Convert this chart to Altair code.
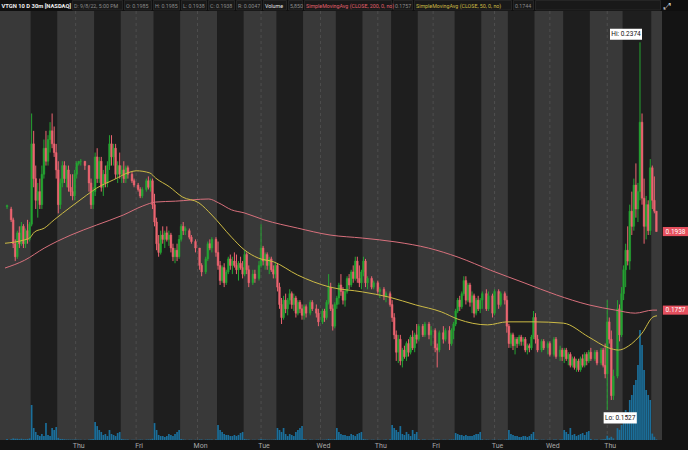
import altair as alt
import pandas as pd

# ---------------- data -----------------
# 30-minute bars, prices in thousandths of a dollar:
# (open, high, low, close, volume in thousands of shares); None = no trades in that slot
s01 = [(199.5,200,199,199.8,10), None, (199,199.5,196,196.5,8), (196.5,197,190,191,15), (191,192,187,188,12),
       (188,194,187.5,193.5,12), (193.5,195,190,191,8), (191,196,190.5,195,12), (195,195.5,190,191,8),
       (191,194.5,190,194,8), (194,196.5,191,192,10), (192,196,191.5,195.5,15)]
s02 = [(195.5,221,195,214,326), (214,217,204,206,112), (206,209,199,201,75), (201,205,197,203,47),
       (203,206,199,200,37), (200,209,199,207,56), (207,215,206,213,37), (213,217,209,210,158),
       (210,216,209,215,47), (215,219,212,217,37), (217,221,213,214,112), (214,218,211,212,93),
       (212,214,206,208,121)]
s03 = [(208,210,198,200,20), (200,206,199,205,10), (205,210,204,209,10), (209,210,205,206,8),
       (206,209,204,208,5), (208,209,203,204,5), (204,207,202,203,4), (203,207,201,202,4),
       (202,208,201,207,5), (207,210,206,209.5,4), (209.5,210,209,210,3), (210,210.5,209,210,3), None,
       (210,210,208,209,3), None, (209,209,203,205,5), (205,206,199,200,8), (200,204,199,203,10)]
s04 = [(203,212,202,211,168), (211,213,205,206,130), (206,211,205,210,93), (210,211,203,204,75),
       (204,208,202,207,47), (207,209,204,205,56), (205,210,204,209,37), (209,216,208,214,93),
       (214,216,209,211,56), (211,214,209,213,47), (213,214,206,207,37), (207,210,205,209,65),
       (209,212,206,207,75)]
s05 = [(207,209,205,208,10), (208,210,205,206,6), (206,209,205,208.5,5), (208.5,209,206,207,4), None,
       (207,207.5,205,205.5,3), (205.5,206,204,204.5,3), None, (204.5,205,203,203.5,3),
       (203.5,204,201.5,202,4), (202,204,201.5,203.5,3), None, (203.5,206,203,205.5,4),
       (205.5,206.5,203.5,204,5), (204,206,203,205.5,6), (205.5,206,199,200,12)]
s06 = [(200,202.5,195,196,158), (196,197,189.5,191,93), (191,193,188,189,47), (189,194,188.5,193,37),
       (193,195,191,192,37), (192,194,190,193.5,28), (193.5,195,191.5,192,37), (192,194,190.5,193,56),
       (193,193.5,189,190,47), (190,191,187,188,37), (188,190,186.5,189.5,56), (189.5,191,187,188,75),
       (188,193,187.5,192,93)]
s07 = [(192,195.5,191.5,195,10), (195,196,193,194,5), (194,195,193,194.5,3), None, (194,194.5,192,192.5,3),
       (192.5,193,191,191.5,3), None, (191.5,192,189,190,3), None, (190,190,185,186,5),
       (186,186.5,183.5,184.5,5), None, (184.5,188,184,187.5,4), (187.5,191.5,187,191,5),
       (191,192,189.5,190,4), (190,192.5,189,192,5), None, (192,192.5,188,189,8)]
s08 = [(189,191.5,185,186,140), (186,187,181.5,182.5,93), (182.5,186,182,185.5,75), (185.5,186.5,181,182,56),
       (182,185,181.5,184.5,47), (184.5,188,184,187.5,47), (187.5,188.5,185,186,37), (186,188,184,187,37),
       (187,189,185.5,186,47), (186,188.5,184,185,37), (185,187,182.5,186.5,47), (186.5,188,185,185.5,65),
       (185.5,187,183,184,75)]
s09 = [(184,189.5,183.5,188.5,10), (188.5,189,184,185,6), (185,186,181,182,5), None, (182,185,181.5,184,3),
       (184,185,182,183,3), None, (183,187,182.5,186,4), (186,195.5,185.5,190,10), (190,190.5,186,187,5),
       (187,189,185,188.5,4), (188.5,189,185,186,3), (186,188,184,187.5,3), (187.5,188,184.5,185,3),
       (185,186,183,184,4), (184,186.5,183,186,6)]
s10 = [(186,186.5,180,181,112), (181,182,176,177,93), (177,178.5,172.5,174,75), (174,179,173.5,178,112),
       (178,179.5,175,176,56), (176,178.5,174.5,178,37), (178,180.5,177,179.5,56), (179.5,180,176,177,47),
       (177,179.5,175.5,178.5,37), (178.5,179,174,175,75), (175,178,174.5,177.5,93), (177.5,178,175,176,112),
       (176,177,173.5,174.5,130)]
s11 = [(174.5,177,173.5,176.5,10), (176.5,177,174,175,5), None, (175,178,174.5,177.5,4), (177.5,178,175.5,176,3),
       None, (176,177,174,175,3), (175,176,172,173,4), None, (173,176,172.5,175.5,3), (175.5,176,173,174,3),
       (174,178,173.5,177.5,5), (177.5,184,177,181,10), (181,182,175.5,176,6), (176,177,171,172,5),
       (172,177.5,171.5,177,8)]
s12 = [(177,179,176,178.5,112), (178.5,182,177,181.5,75), (181.5,184,179,180,56), (180,181,177,178,47),
       (178,180.5,176.5,180,47), (180,183.5,179.5,183,37), (183,184,180.5,181.5,37), (181.5,185,181,184.5,56),
       (184.5,186,182,183,47), (183,188,182.5,187,37), (187,188,182,183,56), (183,186,181,182,65),
       (182,185,180.5,184.5,75)]
s13 = [(184.5,188,183.5,187,10), (187,187.5,181,182,6), (182,183.5,180.5,183,4), None, (183,183.5,180.5,181,3),
       (181,182.5,180.5,182,3), None, (182,182.5,179.5,180,3), (180,181,178.5,180.5,3), None,
       (180.5,181,178,179,3), (179,180,177.5,179.5,4), None, (179.5,180,176.5,177,6)]
s14 = [(177,178,173,174,140), (174,175,169,170,112), (170,171,164,166,93), (166,170,163.5,169,75),
       (169,170,163,164,130), (164,167,162.5,166.5,56), (166.5,167.5,164.5,165,47), (165,168.5,164,168,75),
       (168,169,165,166,56), (166,170,165.5,169.5,37), (169.5,171,166.5,167,93), (167,170.5,166,170,56),
       (170,172.5,168,169,75)]
s15 = [(169,172.5,168.5,172,8), None, (172,172.5,169.5,170,4), (170,173,169.5,172.5,4), None,
       (172.5,173,169,170,3), (170,172,167.5,171,3), None, (171,171.5,166,167,4), (167,168,162.5,166.5,5),
       (166.5,171,166,170.5,4), None, (170.5,172,168,169,3), (169,171.5,168.5,171,3), None,
       (171,172,166.5,168,4), (168,171.5,167.5,171,5), (171,173,169,172.5,6)]
s16 = [(172.5,176,172,175.5,65), (175.5,178.5,175,178,56), (178,179,175.5,176.5,47), (176.5,180,176,179.5,47),
       (179.5,183.5,179,182.5,37), (182.5,183.5,177,178,47), (178,182,177.5,181.5,37), (181.5,182,176.5,177.5,37),
       (177.5,180,175,179,37), (179,179.5,174,175,47), (175,178.5,174.5,178,56), (178,179,175.5,176,56),
       (176,178.5,175,178,75)]
s17 = [(178,180,176,179.5,6), None, (179.5,180.5,175.5,176,4), (176,180,175.5,179,3), None,
       (179,179.5,174,175,3), (175,180.5,174.5,180,4), None, (180,180.5,176,177,3), (177,180,176.5,179.5,3),
       None, (179.5,180,177,178,4), (178,179,170.5,172,8)]
s18 = [(172,172.5,167,168,93), (168,170.5,167,170,56), (170,170.5,166.5,167.5,47), (167.5,169.5,165.5,169,37),
       (169,169.5,167,168,37), (168,170,167.5,169.5,28), (169.5,170,167.5,168.5,28), (168.5,169.5,167.5,169,37),
       (169,169.5,166,166.5,37), (166.5,168,165.5,167.5,28), (167.5,168,166,167,37), (167,170,166.5,169.5,56),
       (169.5,175.5,169,174,75)]
s19 = [(174,175,168,169,10), (169,170,166,166.5,5), None, (166.5,169,166,168.5,3), (168.5,169,166.5,167,3),
       None, (167,168.5,165.5,168,3), (168,168.5,165,165.5,3), None, (165.5,169.5,165,169,4),
       (169,169.5,164.5,165,4), None, (165,167.5,164,166.5,4), (166.5,167,164,165,6)]
s20 = [(165,167,163.5,166.5,93), (166.5,167,164,164.5,75), (164.5,166,163,165.5,56), (165.5,166,162.5,163,112),
       (163,165,162.5,164.5,47), (164.5,165,162,162.5,56), (162.5,164.5,161.5,164,37), (164,164.5,161.5,162,47),
       (162,165,161.5,164.5,56), (164.5,165.5,162.5,163,65), (163,166,162.5,165.5,47), (165.5,166,163,164,75),
       (164,166.5,163.5,166,84)]
s21 = [(166,167,164,164.5,10), None, (164.5,166.5,164,166,5), (166,166.5,163,163.5,4), None,
       (163.5,167,163,166.5,5), (166.5,167,162.5,163,6), (163,168,160,161,10), (161,178,152.7,173,40),
       (173,174,168,169,20), (169,171,155,156,30), (156,162,155,160.5,15), None, (160.5,178,160,176,110),
       (176,177,168.5,170,95), (170,181,169.5,179.5,140)]
s22 = [(179.5,186,178,185,186), (185,191,181,189.5,280), (189.5,195,186,187,260), (187,200,185,198.5,373),
       (198.5,203,193,195,420), (195,206,194,204.5,513), (204.5,209.5,197,199,560), (199,205,196,203,700),
       (203,237.4,201,219,1026), (219,221,200,201.5,886), (201.5,206,191,195,653), (195,202,192,200,466),
       (200,201,193,194,420), (194,210.5,193,208.5,373)]
s23 = [(208.5,209,199,201,60), (201,206.5,198,198.5,30), (198.5,198.5,193.8,193.8,5.85)]

# sessions alternate: extended hours, regular hours, extended, ...
sessions = [s01, s02, s03, s04, s05, s06, s07, s08, s09, s10, s11, s12,
            s13, s14, s15, s16, s17, s18, s19, s20, s21, s22, s23]

# day boundaries (bar position of midnight) and their labels
day_break = [33.5, 63, 93, 124, 153, 181, 208, 238, 265, 293]
day_name = ["Thu", "Fri", "Mon", "Tue", "Wed", "Thu", "Fri", "Tue", "Wed", "Thu"]

# moving averages (bar position, price in thousandths)
sma50_i = [-1, 8.6, 11, 13.4, 18.2, 23, 31.2, 38.9, 43.7, 51.9, 60, 63, 69.7, 72.6, 79.3, 85.5, 93.7, 100,
           109.6, 115.8, 122.6, 130.3, 141.8, 157.7, 173.5, 186.5, 199.5, 212, 220.2, 234.6, 244.2, 257.2,
           271.6, 284, 293.7, 298.5, 303.3, 310, 315.3, 317.3]
sma50_v = [191.1, 191.9, 192.3, 193.7, 194.6, 196.5, 199.5, 202.2, 203.8, 205.7, 207.5, 207.8, 207.3, 206.1,
           204.1, 201.8, 200.4, 197.6, 192.5, 189.6, 187.7, 186.8, 183.8, 181.0, 179.9, 178.7, 176.9, 175.3,
           173.6, 172.3, 173.0, 173.0, 172.7, 169.5, 167.0, 166.5, 167.4, 170.4, 174.1, 174.4]
sma200_i = [-1, 8.6, 18.2, 31.2, 43.7, 56.7, 66.3, 72.6, 82.2, 98.5, 103.3, 109.6, 115.8, 125.4, 141.8,
            157.7, 173.5, 189.9, 205.7, 220.2, 236, 252.4, 268.2, 284.1, 297, 306.7, 315.3, 317.3]
sma200_v = [185.4, 187.2, 190.0, 193.0, 195.3, 197.6, 199.7, 200.6, 200.8, 201.3, 200.4, 198.8, 198.1, 196.5,
            194.6, 193.0, 192.3, 191.4, 190.0, 187.9, 184.9, 182.0, 179.2, 176.9, 175.7, 175.0, 175.7, 175.7]

price_ticks = [0.15, 0.155, 0.16, 0.165, 0.17, 0.175, 0.18, 0.185, 0.19, 0.195, 0.2, 0.205, 0.21,
               0.215, 0.22, 0.225, 0.23, 0.235, 0.24]

title_text = "VTGN 10 D 30m [NASDAQ]"
header_texts = ["D: 9/8/22, 5:00 PM", "O: 0.1985", "H: 0.1985", "L: 0.1938", "C: 0.1938", "R: 0.0047",
                "Volume", "5,850", "SimpleMovingAvg (CLOSE, 200, 0, no)", "0.1757",
                "SimpleMovingAvg (CLOSE, 50, 0, no)", "0.1744"]
last_close = 0.1938
sma200_last = 0.1757

# ---------------- tables -----------------
rows = []
bands = []
idx = 0
for k, seg in enumerate(sessions):
    if k % 2 == 1:
        bands.append({"s": idx - 0.5, "e": idx + len(seg) - 0.5})
    for b in seg:
        if b is not None:
            o, h, l, c, v = b
            rows.append({"i": idx, "o": o / 1000, "h": h / 1000, "l": l / 1000, "c": c / 1000,
                         "v": v, "d": "up" if c >= o else "down"})
        idx += 1
bars = pd.DataFrame(rows)
band_df = pd.DataFrame(bands)
days = pd.DataFrame({"b": day_break, "t": day_name})
sma50 = pd.DataFrame({"i": sma50_i, "p": [v / 1000 for v in sma50_v]})
sma200 = pd.DataFrame({"i": sma200_i, "p": [v / 1000 for v in sma200_v]})
hi_row = bars.loc[bars["h"].idxmax()]
lo_row = bars.loc[bars["l"].idxmin()]
hilo_hi = pd.DataFrame({"i": [hi_row["i"]], "p": [hi_row["h"]], "t": [f"Hi: {hi_row['h']:.4f}"]})
hilo_lo = pd.DataFrame({"i": [lo_row["i"]], "p": [lo_row["l"]], "t": [f"Lo: {lo_row['l']:.4f}"]})
marks_df = pd.DataFrame({"p": [last_close, sma200_last], "t": [f"{last_close:.4f}", f"{sma200_last:.4f}"]})
one = pd.DataFrame({"k": [0]})

# ---------------- chart -----------------
W, H = 662, 429
FONT = "Liberation Sans Narrow, Roboto, sans-serif"
GREEN, RED = "#25a532", "#ec6571"
xs = alt.Scale(domain=[-1, 317.3], nice=False, zero=False)
ps = alt.Scale(domain=[0.14578, 0.24461], nice=False, zero=False)
X = alt.X("i:Q", scale=xs, axis=None)
col = alt.Color("d:N", scale=alt.Scale(domain=["up", "down"], range=[GREEN, RED]), legend=None)

band_layer = alt.Chart(band_df).mark_rect(color="#1e1e1e").encode(
    x=alt.X("s:Q", scale=xs, axis=None), x2="e:Q", y=alt.value(0), y2=alt.value(H))
day_lines = alt.Chart(days).mark_rule(color="#585858", strokeDash=[3, 3], strokeWidth=0.7).encode(
    x=alt.X("b:Q", scale=xs, axis=None))
vol = alt.Chart(bars).mark_bar(width=1.7, color="#1b6f9b").encode(
    x=X, y=alt.Y("v:Q", scale=alt.Scale(domain=[0, 4000], nice=False), axis=None))

wicks = alt.Chart(bars).mark_rule(strokeWidth=1).encode(
    x=X,
    y=alt.Y("l:Q", scale=ps, axis=alt.Axis(orient="right", values=price_ticks, format=".3~f",
                                             labelColor="#9c9c9c", labelFontSize=6.5, labelFont=FONT,
                                             domain=False, ticks=False, grid=False, labelPadding=2,
                                             title=None)),
    y2="h:Q", color=col)
bodies = alt.Chart(bars).mark_bar(width=1.7, strokeWidth=0.5).encode(
    x=X, y=alt.Y("o:Q", scale=ps, axis=None), y2="c:Q", color=col,
    stroke=alt.Stroke("d:N", scale=alt.Scale(domain=["up", "down"], range=[GREEN, RED]), legend=None))
l200 = alt.Chart(sma200).mark_line(color="#d8707c", strokeWidth=1, interpolate="monotone").encode(
    x=X, y=alt.Y("p:Q", scale=ps, axis=None))
l50 = alt.Chart(sma50).mark_line(color="#cdbb45", strokeWidth=1, interpolate="monotone").encode(
    x=X, y=alt.Y("p:Q", scale=ps, axis=None))

box_shape = "M-1,-0.36L1,-0.36L1,0.36L-1,0.36Z"
price_boxes = alt.Chart(marks_df).mark_point(shape=box_shape, size=640, filled=True, opacity=1,
                                             color="#e5505e").encode(
    x=alt.value(675.5), y=alt.Y("p:Q", scale=ps, axis=None))
price_text = alt.Chart(marks_df).mark_text(color="white", fontSize=6.5, font=FONT).encode(
    x=alt.value(675.5), y=alt.Y("p:Q", scale=ps, axis=None), text="t:N")

hl_shape = "M-1,-0.34L1,-0.34L1,0.34L-1,0.34Z"
hi_box = alt.Chart(hilo_hi).mark_point(shape=hl_shape, size=1024, filled=True, opacity=1, color="white",
                                       xOffset=-14, yOffset=-8).encode(
    x=X, y=alt.Y("p:Q", scale=ps, axis=None))
hi_txt = alt.Chart(hilo_hi).mark_text(color="#111", fontSize=6.5, font=FONT, dx=-14, dy=-8).encode(
    x=X, y=alt.Y("p:Q", scale=ps, axis=None), text="t:N")
lo_box = alt.Chart(hilo_lo).mark_point(shape=hl_shape, size=1100, filled=True, opacity=1, color="white",
                                       xOffset=13, yOffset=8).encode(
    x=X, y=alt.Y("p:Q", scale=ps, axis=None))
lo_txt = alt.Chart(hilo_lo).mark_text(color="#111", fontSize=6.5, font=FONT, dx=13, dy=8).encode(
    x=X, y=alt.Y("p:Q", scale=ps, axis=None), text="t:N")

price_layer = alt.layer(wicks, bodies, l200, l50, price_boxes, price_text, hi_box, hi_txt, lo_box, lo_txt)

day_text = alt.Chart(days).mark_text(color="#a8a8a8", fontSize=7, font=FONT, dx=3).encode(
    x=alt.X("b:Q", scale=xs, axis=None), y=alt.value(H + 5.5), text="t:N")

# header strip (layout of the legend bar), one mark per item
hdr = [alt.Chart(one).mark_rect(color="#0f0f0f").encode(
    x=alt.value(0), x2=alt.value(688), y=alt.value(-11), y2=alt.value(0))]
cells = [(72, 123), (124, 152), (153, 180), (181, 207), (208, 235), (236, 262), (263, 287), (288, 303),
         (304, 392), (393, 413), (414, 512), (513, 534), (535, 661)]
colors = ["#8c8c8c"] * 6 + ["#e6e6e6", "#8c8c8c", "#e0606c", "#8c8c8c", "#cdbb45", "#8c8c8c"]
for (x0, x1) in cells:
    hdr.append(alt.Chart(one).mark_rect(fill="#191919", stroke="#323232", strokeWidth=0.6).encode(
        x=alt.value(x0 + 0.5), x2=alt.value(x1 - 0.5), y=alt.value(-10.5), y2=alt.value(-1)))
hdr.append(alt.Chart(one).mark_text(text=title_text, color="#f0f0f0", fontSize=5.8,
                                    fontWeight="bold", font=FONT, align="left").encode(
    x=alt.value(1.5), y=alt.value(-5.5)))
for t, (x0, x1), c in zip(header_texts, cells, colors):
    hdr.append(alt.Chart(one).mark_text(text=t, color=c, fontSize=5.3, font=FONT, align="left").encode(
        x=alt.value(x0 + 2), y=alt.value(-5.5)))
hdr.append(alt.Chart(one).mark_text(text="⤢", color="#cfcfcf", fontSize=9, font="DejaVu Sans").encode(
    x=alt.value(667), y=alt.value(-5)))

chart = alt.layer(band_layer, day_lines, vol, price_layer, day_text, *hdr).resolve_scale(
    y="independent").properties(
    width=W, height=H,
    padding={"left": 0, "top": 11, "right": 26, "bottom": 10},
    autosize=alt.AutoSizeParams(type="none"),
    background="#141414",
).configure_view(stroke=None, fill="#393939")

chart.save("out.html", embed_options={"renderer": "svg", "actions": False})
